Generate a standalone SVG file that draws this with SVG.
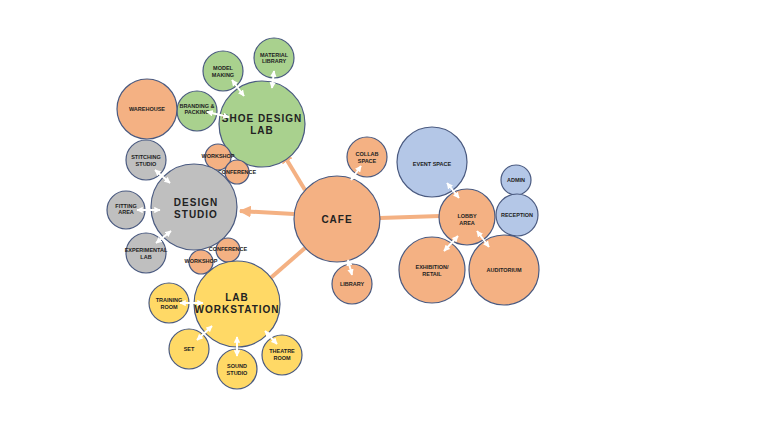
<svg xmlns="http://www.w3.org/2000/svg" width="768" height="433" viewBox="0 0 768 433">
<defs>
<marker id="wa" viewBox="0 0 10 10" refX="9" refY="5" markerWidth="3.2" markerHeight="3.2" orient="auto-start-reverse"><path d="M0,0L10,5L0,10z" fill="#fff"/></marker>
<marker id="oa" viewBox="0 0 10 10" refX="9" refY="5" markerWidth="3" markerHeight="3" orient="auto"><path d="M0,0L10,5L0,10z" fill="#F4B183"/></marker>
</defs>
<style>
circle{stroke:#4A5A80;stroke-width:1.2}
.o{fill:#F4B183}.g{fill:#A9D18E}.s{fill:#BFBFBF}.y{fill:#FFD966}.b{fill:#B4C7E7}
text{font-family:"Liberation Sans",Arial,sans-serif;font-weight:bold;fill:#222;text-anchor:middle;font-size:5.5px}
.big{font-size:10px;letter-spacing:1px}
.w{stroke:#fff;stroke-width:2;fill:none;marker-start:url(#wa);marker-end:url(#wa)}
.c{stroke:#F4B183;stroke-width:4;fill:none}
</style>
<rect width="768" height="433" fill="#fff"/>
<g id="connectors">
<line class="c" x1="305" y1="190" x2="282" y2="152" marker-end="url(#oa)"/>
<line class="c" x1="294" y1="214" x2="240" y2="211" marker-end="url(#oa)"/>
<line class="c" x1="305" y1="248" x2="258" y2="289" marker-end="url(#oa)"/>
<line class="c" x1="380" y1="218" x2="440" y2="216"/>
</g>
<g id="shoe-lab"><circle class="g" cx="262" cy="124" r="43"/><text class="big" x="262" y="122">SHOE DESIGN</text><text class="big" x="262" y="134">LAB</text></g>
<g id="material"><circle class="g" cx="274" cy="58" r="20"/><text x="274" y="57">MATERIAL</text><text x="274" y="63">LIBRARY</text></g>
<g id="model"><circle class="g" cx="223" cy="71" r="20"/><text x="223" y="70">MODEL</text><text x="223" y="77">MAKING</text></g>
<g id="branding"><circle class="g" cx="197" cy="111" r="20"/><text x="197" y="108">BRANDING &amp;</text><text x="197" y="114">PACKING</text></g>
<g id="warehouse"><circle class="o" cx="147" cy="109" r="30"/><text x="147" y="111">WAREHOUSE</text></g>
<g id="workshop1"><circle class="o" cx="218" cy="157" r="13"/><text x="218" y="158">WORKSHOP</text></g>
<g id="conference1"><circle class="o" cx="237" cy="172" r="12"/><text x="237" y="174">CONFERENCE</text></g>
<g id="stitching"><circle class="s" cx="146" cy="160" r="20"/><text x="146" y="159">STITCHING</text><text x="146" y="166">STUDIO</text></g>
<g id="design-studio"><circle class="s" cx="194" cy="207" r="43"/><text class="big" x="196" y="206">DESIGN</text><text class="big" x="196" y="218">STUDIO</text></g>
<g id="fitting"><circle class="s" cx="126" cy="210" r="19"/><text x="126" y="208">FITTING</text><text x="126" y="214">AREA</text></g>
<g id="experimental"><circle class="s" cx="146" cy="253" r="20"/><text x="146" y="252">EXPERIMENTAL</text><text x="146" y="259">LAB</text></g>
<g id="conference2"><circle class="o" cx="228" cy="250" r="12"/><text x="228" y="251">CONFERENCE</text></g>
<g id="workshop2"><circle class="o" cx="201" cy="262" r="12"/><text x="201" y="263">WORKSHOP</text></g>
<g id="lab-workstation"><circle class="y" cx="237" cy="304" r="43"/><text class="big" x="237" y="301">LAB</text><text class="big" x="237" y="313">WORKSTATION</text></g>
<g id="training"><circle class="y" cx="169" cy="303" r="20"/><text x="169" y="302">TRAINING</text><text x="169" y="309">ROOM</text></g>
<g id="set"><circle class="y" cx="189" cy="349" r="20"/><text x="189" y="351">SET</text></g>
<g id="sound"><circle class="y" cx="237" cy="369" r="20"/><text x="237" y="368">SOUND</text><text x="237" y="375">STUDIO</text></g>
<g id="theatre"><circle class="y" cx="282" cy="355" r="20"/><text x="282" y="353">THEATRE</text><text x="282" y="360">ROOM</text></g>
<g id="cafe"><circle class="o" cx="337" cy="219" r="43"/><text class="big" x="337" y="223">CAFE</text></g>
<g id="collab"><circle class="o" cx="367" cy="157" r="20"/><text x="367" y="156">COLLAB</text><text x="367" y="163">SPACE</text></g>
<g id="library"><circle class="o" cx="352" cy="284" r="20"/><text x="352" y="286">LIBRARY</text></g>
<g id="event"><circle class="b" cx="432" cy="162" r="35"/><text x="432" y="166">EVENT SPACE</text></g>
<g id="admin"><circle class="b" cx="516" cy="180" r="15"/><text x="516" y="182">ADMIN</text></g>
<g id="reception"><circle class="b" cx="517" cy="215" r="21"/><text x="517" y="217">RECEPTION</text></g>
<g id="lobby"><circle class="o" cx="467" cy="217" r="28"/><text x="467" y="218">LOBBY</text><text x="467" y="225">AREA</text></g>
<g id="exhibition"><circle class="o" cx="432" cy="270" r="33"/><text x="432" y="269">EXHIBITION/</text><text x="432" y="276">RETAIL</text></g>
<g id="auditorium"><circle class="o" cx="504" cy="270" r="35"/><text x="504" y="272">AUDITORIUM</text></g>
<g id="white-arrows">
<line class="w" x1="274" y1="71" x2="272" y2="88"/>
<line class="w" x1="232" y1="80" x2="244" y2="96"/>
<line class="w" x1="207" y1="112" x2="229" y2="117"/>
<line class="w" x1="155" y1="170" x2="170" y2="183"/>
<line class="w" x1="137" y1="210" x2="160" y2="210"/>
<line class="w" x1="156" y1="243" x2="171" y2="231"/>
<line class="w" x1="180" y1="303" x2="203" y2="303"/>
<line class="w" x1="197" y1="340" x2="212" y2="326"/>
<line class="w" x1="237" y1="356" x2="237" y2="337"/>
<line class="w" x1="277" y1="344" x2="265" y2="331"/>
<line class="w" x1="361" y1="166" x2="351" y2="180"/>
<line class="w" x1="348" y1="260" x2="352" y2="275"/>
<line class="w" x1="447" y1="183" x2="459" y2="198"/>
<line class="w" x1="458" y1="236" x2="444" y2="251"/>
<line class="w" x1="477" y1="231" x2="489" y2="247"/>
</g>
</svg>
